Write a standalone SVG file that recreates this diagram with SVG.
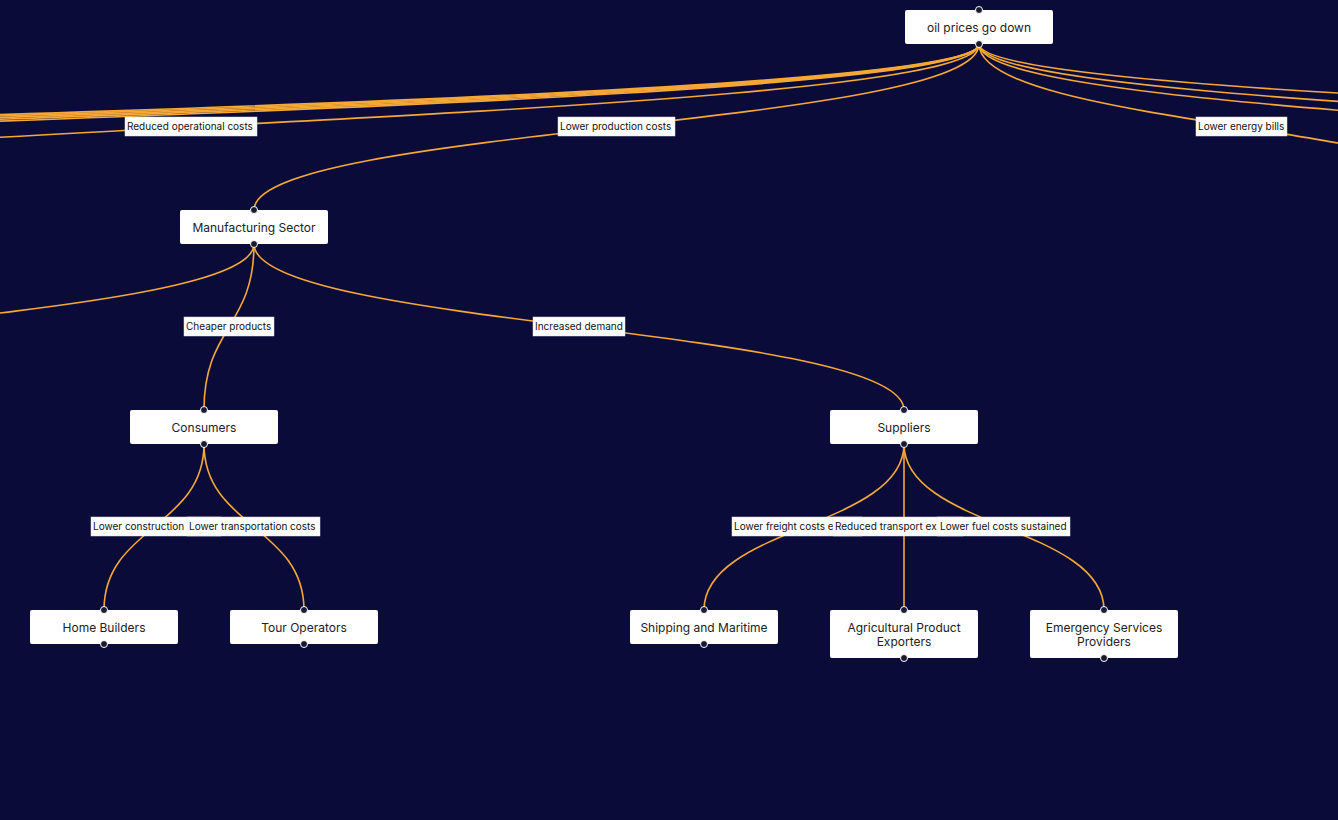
<svg xmlns="http://www.w3.org/2000/svg" width="1338" height="820" viewBox="0 0 1338 820">
<style>
.e{fill:none;stroke:#f5a836;stroke-width:1.6}
.n rect{fill:#fff;rx:2}
.n text{font-family:Inter,"Liberation Sans",sans-serif;font-size:12px;fill:#222;text-anchor:middle}
.h{fill:#1a1a2e;stroke:#fff;stroke-width:1}
.l rect{fill:#fff;stroke:#ddd;stroke-width:0.5}
.l text{font-family:Inter,"Liberation Sans",sans-serif;font-size:10px;fill:#111}
</style>
<rect width="1338" height="820" fill="#0b0b3a"/>
<g id="connectors">
<path class="e" d="M979,44 C979,127 -1300,127 -1300,210"/>
<path class="e" d="M979,44 C979,127 -1420,127 -1420,210"/>
<path class="e" d="M979,44 C979,127 -1540,127 -1540,210"/>
<path class="e" d="M979,44 C979,127 -1660,127 -1660,210"/>
<path class="e" d="M979,44 C979,127 -1780,127 -1780,210"/>
<path class="e" d="M979,44 C979,127 -597,127 -597,210"/>
<path class="e" d="M979,44 C979,127 254,127 254,210"/>
<path class="e" d="M979,44 C979,127 1503,127 1503,210"/>
<path class="e" d="M979,44 C979,127 2150,127 2150,210"/>
<path class="e" d="M979,44 C979,127 2600,127 2600,210"/>
<path class="e" d="M979,44 C979,127 3300,127 3300,210"/>
<path class="e" d="M254,244 C254,327 -500,327 -500,410"/>
<path class="e" d="M254,244 C254,327 204,327 204,410"/>
<path class="e" d="M254,244 C254,327 904,327 904,410"/>
<path class="e" d="M204,444 C204,527 104,527 104,610"/>
<path class="e" d="M204,444 C204,527 304,527 304,610"/>
<path class="e" d="M904,444 C904,527 704,527 704,610"/>
<path class="e" d="M904,444 L904,610"/>
<path class="e" d="M904,444 C904,527 1104,527 1104,610"/>
<g class="l"><rect x="125" y="117" width="132" height="19"/><text x="127" y="130">Reduced operational costs</text></g>
<g class="l"><rect x="558" y="117" width="117" height="19"/><text x="560" y="130">Lower production costs</text></g>
<g class="l"><rect x="1196" y="117" width="91" height="19"/><text x="1198" y="130">Lower energy bills</text></g>
<g class="l"><rect x="184" y="317" width="90" height="19"/><text x="186" y="330">Cheaper products</text></g>
<g class="l"><rect x="533" y="317" width="92" height="19"/><text x="535" y="330">Increased demand</text></g>
<g class="l"><rect x="91" y="517" width="130" height="19"/><text x="93" y="530">Lower construction</text></g>
<g class="l"><rect x="187" y="517" width="133" height="19"/><text x="189" y="530">Lower transportation costs</text></g>
<g class="l"><rect x="732" y="517" width="130" height="19"/><text x="734" y="530">Lower freight costs e</text></g>
<g class="l"><rect x="833" y="517" width="130" height="19"/><text x="835" y="530">Reduced transport ex</text></g>
<g class="l"><rect x="937" y="517" width="133" height="19"/><text x="940" y="530">Lower fuel costs sustained</text></g>
</g>
<g id="n1" class="n"><rect x="905" y="10" width="148" height="34"/><text x="979" y="32">oil prices go down</text><circle class="h" cx="979" cy="10" r="3.5"/><circle class="h" cx="979" cy="44" r="3.5"/></g>
<g id="n2" class="n"><rect x="180" y="210" width="148" height="34"/><text x="254" y="232">Manufacturing Sector</text><circle class="h" cx="254" cy="210" r="3.5"/><circle class="h" cx="254" cy="244" r="3.5"/></g>
<g id="n3" class="n"><rect x="130" y="410" width="148" height="34"/><text x="204" y="432">Consumers</text><circle class="h" cx="204" cy="410" r="3.5"/><circle class="h" cx="204" cy="444" r="3.5"/></g>
<g id="n4" class="n"><rect x="830" y="410" width="148" height="34"/><text x="904" y="432">Suppliers</text><circle class="h" cx="904" cy="410" r="3.5"/><circle class="h" cx="904" cy="444" r="3.5"/></g>
<g id="n5" class="n"><rect x="30" y="610" width="148" height="34"/><text x="104" y="632">Home Builders</text><circle class="h" cx="104" cy="610" r="3.5"/><circle class="h" cx="104" cy="644" r="3.5"/></g>
<g id="n6" class="n"><rect x="230" y="610" width="148" height="34"/><text x="304" y="632">Tour Operators</text><circle class="h" cx="304" cy="610" r="3.5"/><circle class="h" cx="304" cy="644" r="3.5"/></g>
<g id="n7" class="n"><rect x="630" y="610" width="148" height="34"/><text x="704" y="632">Shipping and Maritime</text><circle class="h" cx="704" cy="610" r="3.5"/><circle class="h" cx="704" cy="644" r="3.5"/></g>
<g id="n8" class="n"><rect x="830" y="610" width="148" height="48"/><text x="904" y="632">Agricultural Product</text><text x="904" y="646">Exporters</text><circle class="h" cx="904" cy="610" r="3.5"/><circle class="h" cx="904" cy="658" r="3.5"/></g>
<g id="n9" class="n"><rect x="1030" y="610" width="148" height="48"/><text x="1104" y="632">Emergency Services</text><text x="1104" y="646">Providers</text><circle class="h" cx="1104" cy="610" r="3.5"/><circle class="h" cx="1104" cy="658" r="3.5"/></g>
</svg>
